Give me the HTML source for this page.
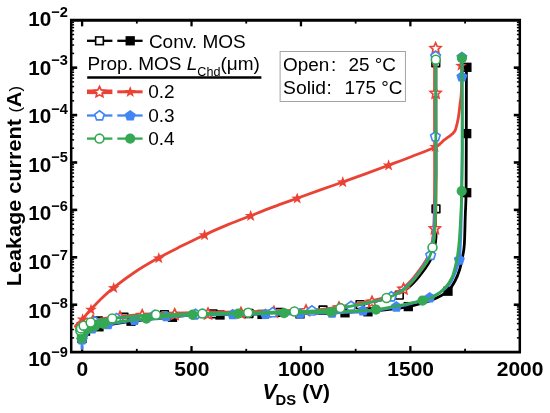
<!DOCTYPE html>
<html lang="en">
<head>
<meta charset="utf-8">
<title>Leakage current vs VDS</title>
<style>
html,body{margin:0;padding:0;background:#fff;}
body{width:550px;height:413px;overflow:hidden;}
svg{display:block;filter:blur(0.35px);}
</style>
</head>
<body>
<svg width="550" height="413" viewBox="0 0 550 413">
<rect width="550" height="413" fill="#fff"/>
<g stroke="#000" stroke-linecap="butt">
<line x1="82.1" y1="352.15" x2="82.1" y2="346.05" stroke-width="2.3"/>
<line x1="82.1" y1="20.25" x2="82.1" y2="26.35" stroke-width="2.3"/>
<line x1="136.81" y1="352.15" x2="136.81" y2="348.85" stroke-width="1.8"/>
<line x1="136.81" y1="20.25" x2="136.81" y2="23.55" stroke-width="1.8"/>
<line x1="191.52" y1="352.15" x2="191.52" y2="346.05" stroke-width="2.3"/>
<line x1="191.52" y1="20.25" x2="191.52" y2="26.35" stroke-width="2.3"/>
<line x1="246.24" y1="352.15" x2="246.24" y2="348.85" stroke-width="1.8"/>
<line x1="246.24" y1="20.25" x2="246.24" y2="23.55" stroke-width="1.8"/>
<line x1="300.95" y1="352.15" x2="300.95" y2="346.05" stroke-width="2.3"/>
<line x1="300.95" y1="20.25" x2="300.95" y2="26.35" stroke-width="2.3"/>
<line x1="355.66" y1="352.15" x2="355.66" y2="348.85" stroke-width="1.8"/>
<line x1="355.66" y1="20.25" x2="355.66" y2="23.55" stroke-width="1.8"/>
<line x1="410.37" y1="352.15" x2="410.37" y2="346.05" stroke-width="2.3"/>
<line x1="410.37" y1="20.25" x2="410.37" y2="26.35" stroke-width="2.3"/>
<line x1="465.09" y1="352.15" x2="465.09" y2="348.85" stroke-width="1.8"/>
<line x1="465.09" y1="20.25" x2="465.09" y2="23.55" stroke-width="1.8"/>
<line x1="71.2" y1="337.88" x2="74.1" y2="337.88" stroke-width="1.5"/>
<line x1="519.8" y1="337.88" x2="516.9" y2="337.88" stroke-width="1.5"/>
<line x1="71.2" y1="329.53" x2="74.1" y2="329.53" stroke-width="1.5"/>
<line x1="519.8" y1="329.53" x2="516.9" y2="329.53" stroke-width="1.5"/>
<line x1="71.2" y1="323.6" x2="74.1" y2="323.6" stroke-width="1.5"/>
<line x1="519.8" y1="323.6" x2="516.9" y2="323.6" stroke-width="1.5"/>
<line x1="71.2" y1="319.01" x2="74.1" y2="319.01" stroke-width="1.5"/>
<line x1="519.8" y1="319.01" x2="516.9" y2="319.01" stroke-width="1.5"/>
<line x1="71.2" y1="315.25" x2="74.1" y2="315.25" stroke-width="1.5"/>
<line x1="519.8" y1="315.25" x2="516.9" y2="315.25" stroke-width="1.5"/>
<line x1="71.2" y1="312.08" x2="74.1" y2="312.08" stroke-width="1.5"/>
<line x1="519.8" y1="312.08" x2="516.9" y2="312.08" stroke-width="1.5"/>
<line x1="71.2" y1="309.33" x2="74.1" y2="309.33" stroke-width="1.5"/>
<line x1="519.8" y1="309.33" x2="516.9" y2="309.33" stroke-width="1.5"/>
<line x1="71.2" y1="306.91" x2="74.1" y2="306.91" stroke-width="1.5"/>
<line x1="519.8" y1="306.91" x2="516.9" y2="306.91" stroke-width="1.5"/>
<line x1="71.2" y1="304.74" x2="77.2" y2="304.74" stroke-width="2.6"/>
<line x1="519.8" y1="304.74" x2="513.8" y2="304.74" stroke-width="2.6"/>
<line x1="71.2" y1="290.46" x2="74.1" y2="290.46" stroke-width="1.5"/>
<line x1="519.8" y1="290.46" x2="516.9" y2="290.46" stroke-width="1.5"/>
<line x1="71.2" y1="282.11" x2="74.1" y2="282.11" stroke-width="1.5"/>
<line x1="519.8" y1="282.11" x2="516.9" y2="282.11" stroke-width="1.5"/>
<line x1="71.2" y1="276.19" x2="74.1" y2="276.19" stroke-width="1.5"/>
<line x1="519.8" y1="276.19" x2="516.9" y2="276.19" stroke-width="1.5"/>
<line x1="71.2" y1="271.59" x2="74.1" y2="271.59" stroke-width="1.5"/>
<line x1="519.8" y1="271.59" x2="516.9" y2="271.59" stroke-width="1.5"/>
<line x1="71.2" y1="267.84" x2="74.1" y2="267.84" stroke-width="1.5"/>
<line x1="519.8" y1="267.84" x2="516.9" y2="267.84" stroke-width="1.5"/>
<line x1="71.2" y1="264.67" x2="74.1" y2="264.67" stroke-width="1.5"/>
<line x1="519.8" y1="264.67" x2="516.9" y2="264.67" stroke-width="1.5"/>
<line x1="71.2" y1="261.92" x2="74.1" y2="261.92" stroke-width="1.5"/>
<line x1="519.8" y1="261.92" x2="516.9" y2="261.92" stroke-width="1.5"/>
<line x1="71.2" y1="259.49" x2="74.1" y2="259.49" stroke-width="1.5"/>
<line x1="519.8" y1="259.49" x2="516.9" y2="259.49" stroke-width="1.5"/>
<line x1="71.2" y1="257.32" x2="77.2" y2="257.32" stroke-width="2.6"/>
<line x1="519.8" y1="257.32" x2="513.8" y2="257.32" stroke-width="2.6"/>
<line x1="71.2" y1="243.05" x2="74.1" y2="243.05" stroke-width="1.5"/>
<line x1="519.8" y1="243.05" x2="516.9" y2="243.05" stroke-width="1.5"/>
<line x1="71.2" y1="234.7" x2="74.1" y2="234.7" stroke-width="1.5"/>
<line x1="519.8" y1="234.7" x2="516.9" y2="234.7" stroke-width="1.5"/>
<line x1="71.2" y1="228.78" x2="74.1" y2="228.78" stroke-width="1.5"/>
<line x1="519.8" y1="228.78" x2="516.9" y2="228.78" stroke-width="1.5"/>
<line x1="71.2" y1="224.18" x2="74.1" y2="224.18" stroke-width="1.5"/>
<line x1="519.8" y1="224.18" x2="516.9" y2="224.18" stroke-width="1.5"/>
<line x1="71.2" y1="220.43" x2="74.1" y2="220.43" stroke-width="1.5"/>
<line x1="519.8" y1="220.43" x2="516.9" y2="220.43" stroke-width="1.5"/>
<line x1="71.2" y1="217.25" x2="74.1" y2="217.25" stroke-width="1.5"/>
<line x1="519.8" y1="217.25" x2="516.9" y2="217.25" stroke-width="1.5"/>
<line x1="71.2" y1="214.5" x2="74.1" y2="214.5" stroke-width="1.5"/>
<line x1="519.8" y1="214.5" x2="516.9" y2="214.5" stroke-width="1.5"/>
<line x1="71.2" y1="212.08" x2="74.1" y2="212.08" stroke-width="1.5"/>
<line x1="519.8" y1="212.08" x2="516.9" y2="212.08" stroke-width="1.5"/>
<line x1="71.2" y1="209.91" x2="77.2" y2="209.91" stroke-width="2.6"/>
<line x1="519.8" y1="209.91" x2="513.8" y2="209.91" stroke-width="2.6"/>
<line x1="71.2" y1="195.63" x2="74.1" y2="195.63" stroke-width="1.5"/>
<line x1="519.8" y1="195.63" x2="516.9" y2="195.63" stroke-width="1.5"/>
<line x1="71.2" y1="187.28" x2="74.1" y2="187.28" stroke-width="1.5"/>
<line x1="519.8" y1="187.28" x2="516.9" y2="187.28" stroke-width="1.5"/>
<line x1="71.2" y1="181.36" x2="74.1" y2="181.36" stroke-width="1.5"/>
<line x1="519.8" y1="181.36" x2="516.9" y2="181.36" stroke-width="1.5"/>
<line x1="71.2" y1="176.77" x2="74.1" y2="176.77" stroke-width="1.5"/>
<line x1="519.8" y1="176.77" x2="516.9" y2="176.77" stroke-width="1.5"/>
<line x1="71.2" y1="173.01" x2="74.1" y2="173.01" stroke-width="1.5"/>
<line x1="519.8" y1="173.01" x2="516.9" y2="173.01" stroke-width="1.5"/>
<line x1="71.2" y1="169.84" x2="74.1" y2="169.84" stroke-width="1.5"/>
<line x1="519.8" y1="169.84" x2="516.9" y2="169.84" stroke-width="1.5"/>
<line x1="71.2" y1="167.09" x2="74.1" y2="167.09" stroke-width="1.5"/>
<line x1="519.8" y1="167.09" x2="516.9" y2="167.09" stroke-width="1.5"/>
<line x1="71.2" y1="164.66" x2="74.1" y2="164.66" stroke-width="1.5"/>
<line x1="519.8" y1="164.66" x2="516.9" y2="164.66" stroke-width="1.5"/>
<line x1="71.2" y1="162.49" x2="77.2" y2="162.49" stroke-width="2.6"/>
<line x1="519.8" y1="162.49" x2="513.8" y2="162.49" stroke-width="2.6"/>
<line x1="71.2" y1="148.22" x2="74.1" y2="148.22" stroke-width="1.5"/>
<line x1="519.8" y1="148.22" x2="516.9" y2="148.22" stroke-width="1.5"/>
<line x1="71.2" y1="139.87" x2="74.1" y2="139.87" stroke-width="1.5"/>
<line x1="519.8" y1="139.87" x2="516.9" y2="139.87" stroke-width="1.5"/>
<line x1="71.2" y1="133.95" x2="74.1" y2="133.95" stroke-width="1.5"/>
<line x1="519.8" y1="133.95" x2="516.9" y2="133.95" stroke-width="1.5"/>
<line x1="71.2" y1="129.35" x2="74.1" y2="129.35" stroke-width="1.5"/>
<line x1="519.8" y1="129.35" x2="516.9" y2="129.35" stroke-width="1.5"/>
<line x1="71.2" y1="125.6" x2="74.1" y2="125.6" stroke-width="1.5"/>
<line x1="519.8" y1="125.6" x2="516.9" y2="125.6" stroke-width="1.5"/>
<line x1="71.2" y1="122.42" x2="74.1" y2="122.42" stroke-width="1.5"/>
<line x1="519.8" y1="122.42" x2="516.9" y2="122.42" stroke-width="1.5"/>
<line x1="71.2" y1="119.67" x2="74.1" y2="119.67" stroke-width="1.5"/>
<line x1="519.8" y1="119.67" x2="516.9" y2="119.67" stroke-width="1.5"/>
<line x1="71.2" y1="117.25" x2="74.1" y2="117.25" stroke-width="1.5"/>
<line x1="519.8" y1="117.25" x2="516.9" y2="117.25" stroke-width="1.5"/>
<line x1="71.2" y1="115.08" x2="77.2" y2="115.08" stroke-width="2.6"/>
<line x1="519.8" y1="115.08" x2="513.8" y2="115.08" stroke-width="2.6"/>
<line x1="71.2" y1="100.81" x2="74.1" y2="100.81" stroke-width="1.5"/>
<line x1="519.8" y1="100.81" x2="516.9" y2="100.81" stroke-width="1.5"/>
<line x1="71.2" y1="92.46" x2="74.1" y2="92.46" stroke-width="1.5"/>
<line x1="519.8" y1="92.46" x2="516.9" y2="92.46" stroke-width="1.5"/>
<line x1="71.2" y1="86.53" x2="74.1" y2="86.53" stroke-width="1.5"/>
<line x1="519.8" y1="86.53" x2="516.9" y2="86.53" stroke-width="1.5"/>
<line x1="71.2" y1="81.94" x2="74.1" y2="81.94" stroke-width="1.5"/>
<line x1="519.8" y1="81.94" x2="516.9" y2="81.94" stroke-width="1.5"/>
<line x1="71.2" y1="78.18" x2="74.1" y2="78.18" stroke-width="1.5"/>
<line x1="519.8" y1="78.18" x2="516.9" y2="78.18" stroke-width="1.5"/>
<line x1="71.2" y1="75.01" x2="74.1" y2="75.01" stroke-width="1.5"/>
<line x1="519.8" y1="75.01" x2="516.9" y2="75.01" stroke-width="1.5"/>
<line x1="71.2" y1="72.26" x2="74.1" y2="72.26" stroke-width="1.5"/>
<line x1="519.8" y1="72.26" x2="516.9" y2="72.26" stroke-width="1.5"/>
<line x1="71.2" y1="69.83" x2="74.1" y2="69.83" stroke-width="1.5"/>
<line x1="519.8" y1="69.83" x2="516.9" y2="69.83" stroke-width="1.5"/>
<line x1="71.2" y1="67.66" x2="77.2" y2="67.66" stroke-width="2.6"/>
<line x1="519.8" y1="67.66" x2="513.8" y2="67.66" stroke-width="2.6"/>
<line x1="71.2" y1="53.39" x2="74.1" y2="53.39" stroke-width="1.5"/>
<line x1="519.8" y1="53.39" x2="516.9" y2="53.39" stroke-width="1.5"/>
<line x1="71.2" y1="45.04" x2="74.1" y2="45.04" stroke-width="1.5"/>
<line x1="519.8" y1="45.04" x2="516.9" y2="45.04" stroke-width="1.5"/>
<line x1="71.2" y1="39.12" x2="74.1" y2="39.12" stroke-width="1.5"/>
<line x1="519.8" y1="39.12" x2="516.9" y2="39.12" stroke-width="1.5"/>
<line x1="71.2" y1="34.52" x2="74.1" y2="34.52" stroke-width="1.5"/>
<line x1="519.8" y1="34.52" x2="516.9" y2="34.52" stroke-width="1.5"/>
<line x1="71.2" y1="30.77" x2="74.1" y2="30.77" stroke-width="1.5"/>
<line x1="519.8" y1="30.77" x2="516.9" y2="30.77" stroke-width="1.5"/>
<line x1="71.2" y1="27.59" x2="74.1" y2="27.59" stroke-width="1.5"/>
<line x1="519.8" y1="27.59" x2="516.9" y2="27.59" stroke-width="1.5"/>
<line x1="71.2" y1="24.84" x2="74.1" y2="24.84" stroke-width="1.5"/>
<line x1="519.8" y1="24.84" x2="516.9" y2="24.84" stroke-width="1.5"/>
<line x1="71.2" y1="22.42" x2="74.1" y2="22.42" stroke-width="1.5"/>
<line x1="519.8" y1="22.42" x2="516.9" y2="22.42" stroke-width="1.5"/>
</g>
<g fill="none" stroke-linejoin="round" stroke-linecap="round">
<path d="M82 342C82.03 341.5 82.07 340.17 82.2 339C82.33 337.83 82.42 336.25 82.8 335C83.18 333.75 83.63 332.42 84.5 331.5C85.37 330.58 86.25 330.17 88 329.5C89.75 328.83 92.33 328.17 95 327.5C97.67 326.83 99 326.42 104 325.5C109 324.58 118 322.98 125 322C132 321.02 134.83 320.73 146 319.6C157.17 318.47 176.67 316.1 192 315.2C207.33 314.3 222.67 314.43 238 314.2C253.33 313.97 268.5 314.03 284 313.8C299.5 313.57 319.17 313.12 331 312.8C342.83 312.48 347.5 312.22 355 311.9C362.5 311.58 368.5 311.55 376 310.9C383.5 310.25 394.62 308.72 400 308C405.38 307.28 404.13 307.52 408.3 306.6C412.47 305.68 420.22 303.97 425 302.5C429.78 301.03 433.17 299.72 437 297.8C440.83 295.88 445 293.8 448 291C451 288.2 453.08 284.5 455 281C456.92 277.5 458.28 273.83 459.5 270C460.72 266.17 461.5 262.17 462.3 258C463.1 253.83 463.8 252.17 464.3 245C464.8 237.83 465 223.83 465.3 215C465.6 206.17 465.93 205.67 466.1 192C466.27 178.33 466.25 153.77 466.3 133C466.35 112.23 466.38 78.33 466.4 67.4" stroke="#000000" stroke-width="2.8"/>
<g>
<rect x="77.35" y="333.85" width="9.3" height="9.3" fill="#000000"/>
<rect x="77.95" y="329.85" width="9.3" height="9.3" fill="#000000"/>
<rect x="80.85" y="326.55" width="9.3" height="9.3" fill="#000000"/>
<rect x="94.35" y="322.15" width="9.3" height="9.3" fill="#000000"/>
<rect x="126.35" y="316.55" width="9.3" height="9.3" fill="#000000"/>
<rect x="167.85" y="312.65" width="9.3" height="9.3" fill="#000000"/>
<rect x="215.35" y="310.35" width="9.3" height="9.3" fill="#000000"/>
<rect x="257.35" y="309.75" width="9.3" height="9.3" fill="#000000"/>
<rect x="295.35" y="309.25" width="9.3" height="9.3" fill="#000000"/>
<rect x="340.35" y="308.15" width="9.3" height="9.3" fill="#000000"/>
<rect x="363.35" y="307.15" width="9.3" height="9.3" fill="#000000"/>
<rect x="403.65" y="301.95" width="9.3" height="9.3" fill="#000000"/>
<rect x="443.35" y="286.55" width="9.3" height="9.3" fill="#000000"/>
<rect x="462.05" y="188.05" width="9.3" height="9.3" fill="#000000"/>
<rect x="462.05" y="128.95" width="9.3" height="9.3" fill="#000000"/>
<rect x="462.25" y="62.65" width="9.3" height="9.3" fill="#000000"/>
</g>
<path d="M82 333.6C82.07 332.93 82.17 330.77 82.4 329.6C82.63 328.43 82.8 327.43 83.4 326.6C84 325.77 84.82 325.17 86 324.6C87.18 324.03 88.17 323.83 90.5 323.2C92.83 322.57 96.42 321.48 100 320.8C103.58 320.12 106.33 319.77 112 319.1C117.67 318.43 126.67 317.43 134 316.8C141.33 316.17 144.67 315.73 156 315.3C167.33 314.87 186.67 314.53 202 314.2C217.33 313.87 232.67 313.65 248 313.3C263.33 312.95 282.33 312.43 294 312.1C305.67 311.77 310.33 311.88 318 311.3C325.67 310.72 332.17 309.83 340 308.6C347.83 307.37 357.12 305.62 365 303.9C372.88 302.18 380.97 300.32 387.28 298.28C393.59 296.24 398.43 294.34 402.88 291.68C407.33 289.02 410.29 286.19 414.01 282.31C417.73 278.43 422.43 272.18 425.2 268.4C427.97 264.62 429.12 262.82 430.6 259.6C432.08 256.38 433.2 252.87 434.1 249.1C435 245.33 435.8 242.13 436 237C436.2 231.87 435.35 228.92 435.3 218.3C435.25 207.68 435.65 189.13 435.7 173.3C435.75 157.47 435.62 141.68 435.6 123.3C435.58 104.92 435.6 73.05 435.6 63" stroke="#000000" stroke-width="2.8"/>
<g>
<rect x="78.15" y="327.15" width="7.7" height="7.7" fill="#fff" stroke="#000000" stroke-width="1.6"/>
<rect x="80.15" y="322.15" width="7.7" height="7.7" fill="#fff" stroke="#000000" stroke-width="1.6"/>
<rect x="94.65" y="317.15" width="7.7" height="7.7" fill="#fff" stroke="#000000" stroke-width="1.6"/>
<rect x="120.15" y="313.35" width="7.7" height="7.7" fill="#fff" stroke="#000000" stroke-width="1.6"/>
<rect x="160.65" y="310.75" width="7.7" height="7.7" fill="#fff" stroke="#000000" stroke-width="1.6"/>
<rect x="209.15" y="309.95" width="7.7" height="7.7" fill="#fff" stroke="#000000" stroke-width="1.6"/>
<rect x="245.15" y="309.65" width="7.7" height="7.7" fill="#fff" stroke="#000000" stroke-width="1.6"/>
<rect x="276.15" y="308.45" width="7.7" height="7.7" fill="#fff" stroke="#000000" stroke-width="1.6"/>
<rect x="319.15" y="306.15" width="7.7" height="7.7" fill="#fff" stroke="#000000" stroke-width="1.6"/>
<rect x="356.15" y="300.75" width="7.7" height="7.7" fill="#fff" stroke="#000000" stroke-width="1.6"/>
<rect x="395.45" y="291.25" width="7.7" height="7.7" fill="#fff" stroke="#000000" stroke-width="1.6"/>
<rect x="432.15" y="204.95" width="7.7" height="7.7" fill="#fff" stroke="#000000" stroke-width="1.6"/>
<rect x="431.95" y="58.95" width="7.7" height="7.7" fill="#fff" stroke="#000000" stroke-width="1.6"/>
</g>
<path d="M75.4 326.4C75.92 325.8 77.3 324 78.5 322.8C79.7 321.6 81.27 320.62 82.6 319.2C83.93 317.78 85.1 315.93 86.5 314.3C87.9 312.67 88.75 311.78 91 309.4C93.25 307.02 96.22 303.62 100 300C103.78 296.38 107.87 292.37 113.7 287.7C119.53 283.03 127.5 276.98 135 272C142.5 267.02 150.97 262.12 158.7 257.8C166.43 253.48 173.78 249.92 181.4 246.1C189.02 242.28 196.73 238.43 204.4 234.9C212.07 231.37 219.68 228.1 227.4 224.9C235.12 221.7 243.03 218.7 250.7 215.7C258.37 212.7 265.65 209.8 273.4 206.9C281.15 204 289.37 201.13 297.2 198.3C305.03 195.47 312.8 192.62 320.4 189.9C328 187.18 335.3 184.67 342.8 182C350.3 179.33 357.77 176.7 365.4 173.9C373.03 171.1 380.77 168.15 388.6 165.2C396.43 162.25 404.62 159.25 412.4 156.2C420.18 153.15 430.03 149.57 435.3 146.9C440.57 144.23 441.47 142.13 444 140.2C446.53 138.27 448.93 136.53 450.5 135.3C452.07 134.07 452.55 133.82 453.4 132.8C454.25 131.78 454.82 131.48 455.6 129.2C456.38 126.92 457.37 123.22 458.1 119.1C458.83 114.98 459.5 108.38 460 104.5C460.5 100.62 460.83 99.05 461.1 95.8C461.37 92.55 461.53 90.05 461.6 85C461.67 79.95 461.52 68.75 461.5 65.5" stroke="#ea4335" stroke-width="2.8"/>
<g>
<polygon points="82.6,313.3 84.07,317.48 88.5,317.58 84.98,320.27 86.24,324.52 82.6,322 78.96,324.52 80.22,320.27 76.7,317.58 81.13,317.48" fill="#ea4335"/>
<polygon points="91,303.5 92.47,307.68 96.9,307.78 93.38,310.47 94.64,314.72 91,312.2 87.36,314.72 88.62,310.47 85.1,307.78 89.53,307.68" fill="#ea4335"/>
<polygon points="113.7,281.9 115.17,286.08 119.6,286.18 116.08,288.87 117.34,293.12 113.7,290.6 110.06,293.12 111.32,288.87 107.8,286.18 112.23,286.08" fill="#ea4335"/>
<polygon points="158.8,252.1 160.27,256.28 164.7,256.38 161.18,259.07 162.44,263.32 158.8,260.8 155.16,263.32 156.42,259.07 152.9,256.38 157.33,256.28" fill="#ea4335"/>
<polygon points="204.6,229 206.07,233.18 210.5,233.28 206.98,235.97 208.24,240.22 204.6,237.7 200.96,240.22 202.22,235.97 198.7,233.28 203.13,233.18" fill="#ea4335"/>
<polygon points="250.7,209.7 252.17,213.88 256.6,213.98 253.08,216.67 254.34,220.92 250.7,218.4 247.06,220.92 248.32,216.67 244.8,213.98 249.23,213.88" fill="#ea4335"/>
<polygon points="297.2,192.4 298.67,196.58 303.1,196.68 299.58,199.37 300.84,203.62 297.2,201.1 293.56,203.62 294.82,199.37 291.3,196.68 295.73,196.58" fill="#ea4335"/>
<polygon points="342.8,176.1 344.27,180.28 348.7,180.38 345.18,183.07 346.44,187.32 342.8,184.8 339.16,187.32 340.42,183.07 336.9,180.38 341.33,180.28" fill="#ea4335"/>
<polygon points="388.6,159.3 390.07,163.48 394.5,163.58 390.98,166.27 392.24,170.52 388.6,168 384.96,170.52 386.22,166.27 382.7,163.58 387.13,163.48" fill="#ea4335"/>
<polygon points="435.1,140.7 436.57,144.88 441,144.98 437.48,147.67 438.74,151.92 435.1,149.4 431.46,151.92 432.72,147.67 429.2,144.98 433.63,144.88" fill="#ea4335"/>
<polygon points="461,59.6 462.47,63.78 466.9,63.88 463.38,66.57 464.64,70.82 461,68.3 457.36,70.82 458.62,66.57 455.1,63.88 459.53,63.78" fill="#ea4335"/>
</g>
<path d="M82 332.7C82.07 332.03 82.17 329.87 82.4 328.7C82.63 327.53 82.8 326.53 83.4 325.7C84 324.87 84.82 324.27 86 323.7C87.18 323.13 88.17 322.93 90.5 322.3C92.83 321.67 96.42 320.58 100 319.9C103.58 319.22 106.33 318.87 112 318.2C117.67 317.53 126.67 316.53 134 315.9C141.33 315.27 144.67 314.83 156 314.4C167.33 313.97 186.67 313.63 202 313.3C217.33 312.97 232.67 312.75 248 312.4C263.33 312.05 282.33 311.53 294 311.2C305.67 310.87 310.33 311.02 318 310.4C325.67 309.78 332.17 308.77 340 307.5C347.83 306.23 357.17 304.47 365 302.8C372.83 301.13 380.92 299.58 387 297.5C393.08 295.42 397.3 293.13 401.5 290.3C405.7 287.47 408.6 284.5 412.2 280.5C415.8 276.5 420.38 270.13 423.1 266.3C425.82 262.47 427.02 260.72 428.5 257.5C429.98 254.28 431.1 250.77 432 247C432.9 243.23 433.4 240.32 433.9 234.9C434.4 229.48 434.75 225.4 435 214.5C435.25 203.6 435.35 185.33 435.4 169.5C435.45 153.67 435.32 137.88 435.3 119.5C435.28 101.12 435.3 69.25 435.3 59.2" stroke="#ea4335" stroke-width="4.3"/>
<g>
<polygon points="82,324.6 83.62,328.08 87.42,328.54 84.62,331.15 85.35,334.91 82,333.05 78.65,334.91 79.38,331.15 76.58,328.54 80.38,328.08" fill="#fff" stroke="#ea4335" stroke-width="1.7" stroke-linejoin="miter"/>
<polygon points="83,319.1 84.62,322.58 88.42,323.04 85.62,325.65 86.35,329.41 83,327.55 79.65,329.41 80.38,325.65 77.58,323.04 81.38,322.58" fill="#fff" stroke="#ea4335" stroke-width="1.7" stroke-linejoin="miter"/>
<polygon points="93,315.2 94.62,318.68 98.42,319.14 95.62,321.75 96.35,325.51 93,323.65 89.65,325.51 90.38,321.75 87.58,319.14 91.38,318.68" fill="#fff" stroke="#ea4335" stroke-width="1.7" stroke-linejoin="miter"/>
<polygon points="120,311.6 121.62,315.08 125.42,315.54 122.62,318.15 123.35,321.91 120,320.05 116.65,321.91 117.38,318.15 114.58,315.54 118.38,315.08" fill="#fff" stroke="#ea4335" stroke-width="1.7" stroke-linejoin="miter"/>
<polygon points="142.2,309.8 143.82,313.28 147.62,313.74 144.82,316.35 145.55,320.11 142.2,318.25 138.85,320.11 139.58,316.35 136.78,313.74 140.58,313.28" fill="#fff" stroke="#ea4335" stroke-width="1.7" stroke-linejoin="miter"/>
<polygon points="174.7,308.9 176.32,312.38 180.12,312.84 177.32,315.45 178.05,319.21 174.7,317.35 171.35,319.21 172.08,315.45 169.28,312.84 173.08,312.38" fill="#fff" stroke="#ea4335" stroke-width="1.7" stroke-linejoin="miter"/>
<polygon points="208,308.2 209.62,311.68 213.42,312.14 210.62,314.75 211.35,318.51 208,316.65 204.65,318.51 205.38,314.75 202.58,312.14 206.38,311.68" fill="#fff" stroke="#ea4335" stroke-width="1.7" stroke-linejoin="miter"/>
<polygon points="241,307.5 242.62,310.98 246.42,311.44 243.62,314.05 244.35,317.81 241,315.95 237.65,317.81 238.38,314.05 235.58,311.44 239.38,310.98" fill="#fff" stroke="#ea4335" stroke-width="1.7" stroke-linejoin="miter"/>
<polygon points="274,306.6 275.62,310.08 279.42,310.54 276.62,313.15 277.35,316.91 274,315.05 270.65,316.91 271.38,313.15 268.58,310.54 272.38,310.08" fill="#fff" stroke="#ea4335" stroke-width="1.7" stroke-linejoin="miter"/>
<polygon points="306,305.1 307.62,308.58 311.42,309.04 308.62,311.65 309.35,315.41 306,313.55 302.65,315.41 303.38,311.65 300.58,309.04 304.38,308.58" fill="#fff" stroke="#ea4335" stroke-width="1.7" stroke-linejoin="miter"/>
<polygon points="339,302.2 340.62,305.68 344.42,306.14 341.62,308.75 342.35,312.51 339,310.65 335.65,312.51 336.38,308.75 333.58,306.14 337.38,305.68" fill="#fff" stroke="#ea4335" stroke-width="1.7" stroke-linejoin="miter"/>
<polygon points="372,296.4 373.62,299.88 377.42,300.34 374.62,302.95 375.35,306.71 372,304.85 368.65,306.71 369.38,302.95 366.58,300.34 370.38,299.88" fill="#fff" stroke="#ea4335" stroke-width="1.7" stroke-linejoin="miter"/>
<polygon points="403.5,283.4 405.12,286.88 408.92,287.34 406.12,289.95 406.85,293.71 403.5,291.85 400.15,293.71 400.88,289.95 398.08,287.34 401.88,286.88" fill="#fff" stroke="#ea4335" stroke-width="1.7" stroke-linejoin="miter"/>
<polygon points="434.9,223 436.52,226.48 440.32,226.94 437.52,229.55 438.25,233.31 434.9,231.45 431.55,233.31 432.28,229.55 429.48,226.94 433.28,226.48" fill="#fff" stroke="#ea4335" stroke-width="1.7" stroke-linejoin="miter"/>
<polygon points="435.6,87.5 437.22,90.98 441.02,91.44 438.22,94.05 438.95,97.81 435.6,95.95 432.25,97.81 432.98,94.05 430.18,91.44 433.98,90.98" fill="#fff" stroke="#ea4335" stroke-width="1.7" stroke-linejoin="miter"/>
<polygon points="435.6,42.8 437.22,46.28 441.02,46.74 438.22,49.35 438.95,53.11 435.6,51.25 432.25,53.11 432.98,49.35 430.18,46.74 433.98,46.28" fill="#fff" stroke="#ea4335" stroke-width="1.7" stroke-linejoin="miter"/>
</g>
<path d="M82 348.6C82.02 347.17 81.97 342.27 82.1 340C82.23 337.73 82.42 336.33 82.8 335C83.18 333.67 83.53 332.83 84.4 332C85.27 331.17 86.23 330.8 88 330C89.77 329.2 92.33 328.03 95 327.2C97.67 326.37 99 325.95 104 325C109 324.05 118 322.47 125 321.5C132 320.53 134.83 320.25 146 319.2C157.17 318.15 176.67 316.03 192 315.2C207.33 314.37 222.67 314.43 238 314.2C253.33 313.97 268.5 314.03 284 313.8C299.5 313.57 319.17 313.13 331 312.8C342.83 312.47 347.5 312.17 355 311.8C362.5 311.43 369.12 311.43 376 310.6C382.88 309.77 390.63 307.93 396.3 306.8C401.97 305.67 404.43 305.35 410 303.8C415.57 302.25 424.53 299.5 429.7 297.5C434.87 295.5 437.7 294.05 441 291.8C444.3 289.55 447.17 287.13 449.5 284C451.83 280.87 453.58 276.33 455 273C456.42 269.67 457.25 266.33 458 264C458.75 261.67 459.07 263 459.5 259C459.93 255 460.3 247.33 460.6 240C460.9 232.67 461.12 224.17 461.3 215C461.48 205.83 461.55 195.83 461.7 185C461.85 174.17 462.12 168.08 462.2 150C462.28 131.92 462.22 92 462.2 76.5C462.18 61 462.12 60.25 462.1 57" stroke="#4285f4" stroke-width="2.8"/>
<g>
<polygon points="82,333.95 87.56,337.99 85.44,344.53 78.56,344.53 76.44,337.99" fill="#4285f4"/>
<polygon points="82.4,329.95 87.96,333.99 85.84,340.53 78.96,340.53 76.84,333.99" fill="#4285f4"/>
<polygon points="84.4,326.45 89.96,330.49 87.84,337.03 80.96,337.03 78.84,330.49" fill="#4285f4"/>
<polygon points="92,322.95 97.56,326.99 95.44,333.53 88.56,333.53 86.44,326.99" fill="#4285f4"/>
<polygon points="108,318.75 113.56,322.79 111.44,329.33 104.56,329.33 102.44,322.79" fill="#4285f4"/>
<polygon points="134.5,314.45 140.06,318.49 137.94,325.03 131.06,325.03 128.94,318.49" fill="#4285f4"/>
<polygon points="166.3,310.75 171.86,314.79 169.74,321.33 162.86,321.33 160.74,314.79" fill="#4285f4"/>
<polygon points="194.5,309.25 200.06,313.29 197.94,319.83 191.06,319.83 188.94,313.29" fill="#4285f4"/>
<polygon points="232.7,308.65 238.26,312.69 236.14,319.23 229.26,319.23 227.14,312.69" fill="#4285f4"/>
<polygon points="265.5,308.45 271.06,312.49 268.94,319.03 262.06,319.03 259.94,312.49" fill="#4285f4"/>
<polygon points="300,307.95 305.56,311.99 303.44,318.53 296.56,318.53 294.44,311.99" fill="#4285f4"/>
<polygon points="332,307.05 337.56,311.09 335.44,317.63 328.56,317.63 326.44,311.09" fill="#4285f4"/>
<polygon points="363,304.85 368.56,308.89 366.44,315.43 359.56,315.43 357.44,308.89" fill="#4285f4"/>
<polygon points="396.3,301.05 401.86,305.09 399.74,311.63 392.86,311.63 390.74,305.09" fill="#4285f4"/>
<polygon points="429.7,291.95 435.26,295.99 433.14,302.53 426.26,302.53 424.14,295.99" fill="#4285f4"/>
<polygon points="459.3,254.05 464.86,258.09 462.74,264.63 455.86,264.63 453.74,258.09" fill="#4285f4"/>
<polygon points="461.9,70.95 467.46,74.99 465.34,81.53 458.46,81.53 456.34,74.99" fill="#4285f4"/>
<polygon points="461.9,51.45 467.46,55.49 465.34,62.03 458.46,62.03 456.34,55.49" fill="#4285f4"/>
</g>
<path d="M82 333.2C82.07 332.53 82.17 330.37 82.4 329.2C82.63 328.03 82.8 327.03 83.4 326.2C84 325.37 84.82 324.77 86 324.2C87.18 323.63 88.17 323.43 90.5 322.8C92.83 322.17 96.42 321.08 100 320.4C103.58 319.72 106.33 319.37 112 318.7C117.67 318.03 126.67 317.03 134 316.4C141.33 315.77 144.67 315.33 156 314.9C167.33 314.47 186.67 314.13 202 313.8C217.33 313.47 232.67 313.25 248 312.9C263.33 312.55 282.33 312.03 294 311.7C305.67 311.37 310.33 311.48 318 310.9C325.67 310.32 332.17 309.43 340 308.2C347.83 306.97 357.17 305.17 365 303.5C372.83 301.83 380.97 300.28 387 298.2C393.03 296.12 397.05 293.83 401.2 291C405.35 288.17 408.3 285.2 411.9 281.2C415.5 277.2 420.08 270.83 422.8 267C425.52 263.17 426.72 261.42 428.2 258.2C429.68 254.98 430.8 251.47 431.7 247.7C432.6 243.93 433.1 241.02 433.6 235.6C434.1 230.18 434.32 226.1 434.7 215.2C435.08 204.3 435.72 186.03 435.9 170.2C436.08 154.37 435.82 138.58 435.8 120.2C435.78 101.82 435.8 69.95 435.8 59.9" stroke="#4285f4" stroke-width="2.8"/>
<g>
<polygon points="82,327.25 86.8,330.74 84.97,336.39 79.03,336.39 77.2,330.74" fill="#fff" stroke="#4285f4" stroke-width="1.6" stroke-linejoin="miter"/>
<polygon points="83.5,321.75 88.3,325.24 86.47,330.89 80.53,330.89 78.7,325.24" fill="#fff" stroke="#4285f4" stroke-width="1.6" stroke-linejoin="miter"/>
<polygon points="95,316.75 99.8,320.24 97.97,325.89 92.03,325.89 90.2,320.24" fill="#fff" stroke="#4285f4" stroke-width="1.6" stroke-linejoin="miter"/>
<polygon points="116.4,313.45 121.2,316.94 119.37,322.59 113.43,322.59 111.6,316.94" fill="#fff" stroke="#4285f4" stroke-width="1.6" stroke-linejoin="miter"/>
<polygon points="154.5,310.25 159.3,313.74 157.47,319.39 151.53,319.39 149.7,313.74" fill="#fff" stroke="#4285f4" stroke-width="1.6" stroke-linejoin="miter"/>
<polygon points="195.5,309.15 200.3,312.64 198.47,318.29 192.53,318.29 190.7,312.64" fill="#fff" stroke="#4285f4" stroke-width="1.6" stroke-linejoin="miter"/>
<polygon points="272.7,307.55 277.5,311.04 275.67,316.69 269.73,316.69 267.9,311.04" fill="#fff" stroke="#4285f4" stroke-width="1.6" stroke-linejoin="miter"/>
<polygon points="312,305.85 316.8,309.34 314.97,314.99 309.03,314.99 307.2,309.34" fill="#fff" stroke="#4285f4" stroke-width="1.6" stroke-linejoin="miter"/>
<polygon points="351,301.25 355.8,304.74 353.97,310.39 348.03,310.39 346.2,304.74" fill="#fff" stroke="#4285f4" stroke-width="1.6" stroke-linejoin="miter"/>
<polygon points="391.3,291.75 396.1,295.24 394.27,300.89 388.33,300.89 386.5,295.24" fill="#fff" stroke="#4285f4" stroke-width="1.6" stroke-linejoin="miter"/>
<polygon points="430.7,250.25 435.5,253.74 433.67,259.39 427.73,259.39 425.9,253.74" fill="#fff" stroke="#4285f4" stroke-width="1.6" stroke-linejoin="miter"/>
<polygon points="435.4,131.55 440.2,135.04 438.37,140.69 432.43,140.69 430.6,135.04" fill="#fff" stroke="#4285f4" stroke-width="1.6" stroke-linejoin="miter"/>
<polygon points="435.6,51.35 440.4,54.84 438.57,60.49 432.63,60.49 430.8,54.84" fill="#fff" stroke="#4285f4" stroke-width="1.6" stroke-linejoin="miter"/>
</g>
<path d="M81.6 340C81.63 339.5 81.63 338 81.8 337C81.97 336 82.23 335 82.6 334C82.97 333 83.18 331.92 84 331C84.82 330.08 85.83 329.33 87.5 328.5C89.17 327.67 91.32 326.75 94 326C96.68 325.25 98.43 324.87 103.6 324C108.77 323.13 117.87 321.7 125 320.8C132.13 319.9 135.12 319.62 146.4 318.6C157.68 317.58 177.4 315.52 192.7 314.7C208 313.88 222.98 313.95 238.2 313.7C253.42 313.45 268.53 313.48 284 313.2C299.47 312.92 319.17 312.37 331 312C342.83 311.63 347.5 311.4 355 311C362.5 310.6 368.5 310.55 376 309.6C383.5 308.65 392.25 306.8 400 305.3C407.75 303.8 416.75 302.12 422.5 300.6C428.25 299.08 430.68 298.38 434.5 296.2C438.32 294.02 442.5 290.58 445.4 287.5C448.3 284.42 450.27 281.15 451.9 277.7C453.53 274.25 454.27 270.42 455.2 266.8C456.13 263.18 456.82 260.47 457.5 256C458.18 251.53 458.75 246.83 459.3 240C459.85 233.17 460.38 223.17 460.8 215C461.22 206.83 461.55 201.83 461.8 191C462.05 180.17 462.23 165.17 462.3 150C462.37 134.83 462.27 115.33 462.2 100C462.13 84.67 461.95 65 461.9 58" stroke="#34a853" stroke-width="2.8"/>
<g>
<circle cx="81.6" cy="338.3" r="5.1" fill="#34a853"/>
<circle cx="81.9" cy="335.6" r="5.1" fill="#34a853"/>
<circle cx="82.4" cy="333" r="5.1" fill="#34a853"/>
<circle cx="83.8" cy="331" r="5.1" fill="#34a853"/>
<circle cx="86.3" cy="329.4" r="5.1" fill="#34a853"/>
<circle cx="90" cy="327.8" r="5.1" fill="#34a853"/>
<circle cx="95" cy="326.2" r="5.1" fill="#34a853"/>
<circle cx="103.6" cy="324" r="5.1" fill="#34a853"/>
<circle cx="146.4" cy="318.6" r="5.1" fill="#34a853"/>
<circle cx="192.7" cy="314.7" r="5.1" fill="#34a853"/>
<circle cx="238.2" cy="313.7" r="5.1" fill="#34a853"/>
<circle cx="284" cy="313.2" r="5.1" fill="#34a853"/>
<circle cx="331" cy="312" r="5.1" fill="#34a853"/>
<circle cx="376" cy="309.6" r="5.1" fill="#34a853"/>
<circle cx="422.5" cy="300.6" r="5.1" fill="#34a853"/>
<circle cx="461.7" cy="191.1" r="5.1" fill="#34a853"/>
<circle cx="461.9" cy="58.1" r="5.1" fill="#34a853"/>
</g>
<path d="M82 333C82.07 332.33 82.17 330.17 82.4 329C82.63 327.83 82.8 326.83 83.4 326C84 325.17 84.82 324.57 86 324C87.18 323.43 88.17 323.23 90.5 322.6C92.83 321.97 96.42 320.88 100 320.2C103.58 319.52 106.33 319.17 112 318.5C117.67 317.83 126.67 316.83 134 316.2C141.33 315.57 144.67 315.13 156 314.7C167.33 314.27 186.67 313.93 202 313.6C217.33 313.27 232.67 313.05 248 312.7C263.33 312.35 282.33 311.83 294 311.5C305.67 311.17 310.33 311.28 318 310.7C325.67 310.12 332.17 309.23 340 308C347.83 306.77 357.17 304.97 365 303.3C372.83 301.63 380.83 300.08 387 298C393.17 295.92 397.72 293.63 402 290.8C406.28 287.97 409.1 285 412.7 281C416.3 277 420.88 270.63 423.6 266.8C426.32 262.97 427.52 261.22 429 258C430.48 254.78 431.6 251.27 432.5 247.5C433.4 243.73 433.9 240.82 434.4 235.4C434.9 229.98 435.25 225.9 435.5 215C435.75 204.1 435.85 185.83 435.9 170C435.95 154.17 435.82 138.38 435.8 120C435.78 101.62 435.8 69.75 435.8 59.7" stroke="#34a853" stroke-width="2.8"/>
<g>
<circle cx="80.3" cy="330.5" r="4.45" fill="#fff" stroke="#34a853" stroke-width="1.6"/>
<circle cx="80.9" cy="328.4" r="4.45" fill="#fff" stroke="#34a853" stroke-width="1.6"/>
<circle cx="83.6" cy="325.7" r="4.45" fill="#fff" stroke="#34a853" stroke-width="1.6"/>
<circle cx="90.6" cy="322.5" r="4.45" fill="#fff" stroke="#34a853" stroke-width="1.6"/>
<circle cx="112.2" cy="318.4" r="4.45" fill="#fff" stroke="#34a853" stroke-width="1.6"/>
<circle cx="156" cy="314.7" r="4.45" fill="#fff" stroke="#34a853" stroke-width="1.6"/>
<circle cx="202.4" cy="313.6" r="4.45" fill="#fff" stroke="#34a853" stroke-width="1.6"/>
<circle cx="248.2" cy="312.7" r="4.45" fill="#fff" stroke="#34a853" stroke-width="1.6"/>
<circle cx="294.4" cy="311.5" r="4.45" fill="#fff" stroke="#34a853" stroke-width="1.6"/>
<circle cx="340.4" cy="308.1" r="4.45" fill="#fff" stroke="#34a853" stroke-width="1.6"/>
<circle cx="386.5" cy="298" r="4.45" fill="#fff" stroke="#34a853" stroke-width="1.6"/>
<circle cx="432.5" cy="247.4" r="4.45" fill="#fff" stroke="#34a853" stroke-width="1.6"/>
<circle cx="435.8" cy="59.7" r="4.45" fill="#fff" stroke="#34a853" stroke-width="1.6"/>
</g>
</g>
<path fill="#000" fill-rule="evenodd" d="M69.95 18.82H521.05V353.57H69.95ZM72.45 21.68H518.55V350.72H72.45Z"/>
<g font-family="'Liberation Sans', Arial, sans-serif" fill="#000">
<text x="82.4" y="375.7" font-size="21" font-weight="bold" text-anchor="middle">0</text>
<text x="191.82" y="375.7" font-size="21" font-weight="bold" text-anchor="middle">500</text>
<text x="301.25" y="375.7" font-size="21" font-weight="bold" text-anchor="middle">1000</text>
<text x="410.67" y="375.7" font-size="21" font-weight="bold" text-anchor="middle">1500</text>
<text x="520.1" y="375.7" font-size="21" font-weight="bold" text-anchor="middle">2000</text>
<text x="28.3" y="366.31" font-size="20.7" font-weight="bold">10<tspan font-size="14.6" dy="-9.4">−9</tspan></text>
<text x="28.3" y="317.68" font-size="20.7" font-weight="bold">10<tspan font-size="14.6" dy="-9.4">−8</tspan></text>
<text x="28.3" y="269.05" font-size="20.7" font-weight="bold">10<tspan font-size="14.6" dy="-9.4">−7</tspan></text>
<text x="28.3" y="220.42" font-size="20.7" font-weight="bold">10<tspan font-size="14.6" dy="-9.4">−6</tspan></text>
<text x="28.3" y="171.79" font-size="20.7" font-weight="bold">10<tspan font-size="14.6" dy="-9.4">−5</tspan></text>
<text x="28.3" y="123.16" font-size="20.7" font-weight="bold">10<tspan font-size="14.6" dy="-9.4">−4</tspan></text>
<text x="28.3" y="74.53" font-size="20.7" font-weight="bold">10<tspan font-size="14.6" dy="-9.4">−3</tspan></text>
<text x="28.3" y="25.9" font-size="20.7" font-weight="bold">10<tspan font-size="14.6" dy="-9.4">−2</tspan></text>
<text font-weight="bold" y="398.7"><tspan x="262.6" font-size="21.5" font-style="italic">V</tspan><tspan x="275.5" y="404.8" font-size="14.8">DS</tspan><tspan x="296.39" y="398.7" font-size="20.9"> (V)</tspan></text>
<g transform="translate(21.4 185.85) rotate(-90)">
<text font-size="21" font-weight="bold" y="0"><tspan x="-100.45" textLength="167.2" lengthAdjust="spacingAndGlyphs">Leakage current</tspan><tspan x="68.58" y="-0.3" font-size="16.8" font-weight="normal"> (</tspan><tspan x="78.55" y="0" textLength="15.6" lengthAdjust="spacingAndGlyphs">A</tspan><tspan x="94.25" y="-0.3" font-size="16.8" font-weight="normal">)</tspan></text>
</g>
</g>
<g font-family="'Liberation Sans', Arial, sans-serif" fill="#000">
<line x1="87" y1="40.8" x2="112.4" y2="40.8" stroke="#000000" stroke-width="2.3"/>
<rect x="95.65" y="36.95" width="7.7" height="7.7" fill="#fff" stroke="#000000" stroke-width="1.6"/>
<line x1="117.3" y1="40.8" x2="142.6" y2="40.8" stroke="#000000" stroke-width="2.3"/>
<rect x="125.55" y="36.15" width="9.3" height="9.3" fill="#000000"/>
<text x="148.9" y="47.8" font-size="19">Conv. MOS</text>
<text x="87.5" y="70.1" font-size="19">Prop. MOS <tspan font-style="italic">L</tspan><tspan font-size="12.6" dy="5.8">Chd</tspan><tspan dy="-5.8">(μm)</tspan></text>
<line x1="87.2" y1="77.5" x2="261.4" y2="77.5" stroke="#000" stroke-width="2.4"/>
<line x1="87" y1="91.8" x2="112.4" y2="91.8" stroke="#ea4335" stroke-width="4.6"/>
<polygon points="99.5,86.4 101.12,89.88 104.92,90.34 102.12,92.95 102.85,96.71 99.5,94.85 96.15,96.71 96.88,92.95 94.08,90.34 97.88,89.88" fill="#fff" stroke="#ea4335" stroke-width="1.7" stroke-linejoin="miter"/>
<line x1="117.3" y1="91.8" x2="142.6" y2="91.8" stroke="#ea4335" stroke-width="2.99"/>
<polygon points="130.2,85.9 131.67,90.08 136.1,90.18 132.58,92.87 133.84,97.12 130.2,94.6 126.56,97.12 127.82,92.87 124.3,90.18 128.73,90.08" fill="#ea4335"/>
<text x="148.2" y="98" font-size="19">0.2</text>
<line x1="87" y1="115.5" x2="112.4" y2="115.5" stroke="#4285f4" stroke-width="2.3"/>
<polygon points="99.5,110.75 104.3,114.24 102.47,119.89 96.53,119.89 94.7,114.24" fill="#fff" stroke="#4285f4" stroke-width="1.6" stroke-linejoin="miter"/>
<line x1="117.3" y1="115.5" x2="142.6" y2="115.5" stroke="#4285f4" stroke-width="2.3"/>
<polygon points="130.2,109.95 135.76,113.99 133.64,120.53 126.76,120.53 124.64,113.99" fill="#4285f4"/>
<text x="148.2" y="121.6" font-size="19">0.3</text>
<line x1="87" y1="138.6" x2="112.4" y2="138.6" stroke="#34a853" stroke-width="2.3"/>
<circle cx="99.5" cy="138.6" r="4.45" fill="#fff" stroke="#34a853" stroke-width="1.6"/>
<line x1="117.3" y1="138.6" x2="142.6" y2="138.6" stroke="#34a853" stroke-width="2.3"/>
<circle cx="130.2" cy="138.6" r="5.1" fill="#34a853"/>
<text x="148.2" y="145.2" font-size="19">0.4</text>
</g>
<rect x="280.1" y="51.5" width="125.3" height="50" fill="#fff" stroke="#9a9a9a" stroke-width="0.9"/>
<g font-family="'Liberation Sans', Arial, sans-serif" fill="#000">
<text font-size="18.9" y="70.9"><tspan x="283">Open</tspan><tspan x="331">:</tspan><tspan x="343.15"> 25 °C</tspan></text>
<text font-size="18.9" y="94.2"><tspan x="283" textLength="43" lengthAdjust="spacingAndGlyphs">Solid</tspan><tspan x="326.5">:</tspan><tspan x="339.25"> 175 °C</tspan></text>
</g>
</svg>
</body>
</html>
